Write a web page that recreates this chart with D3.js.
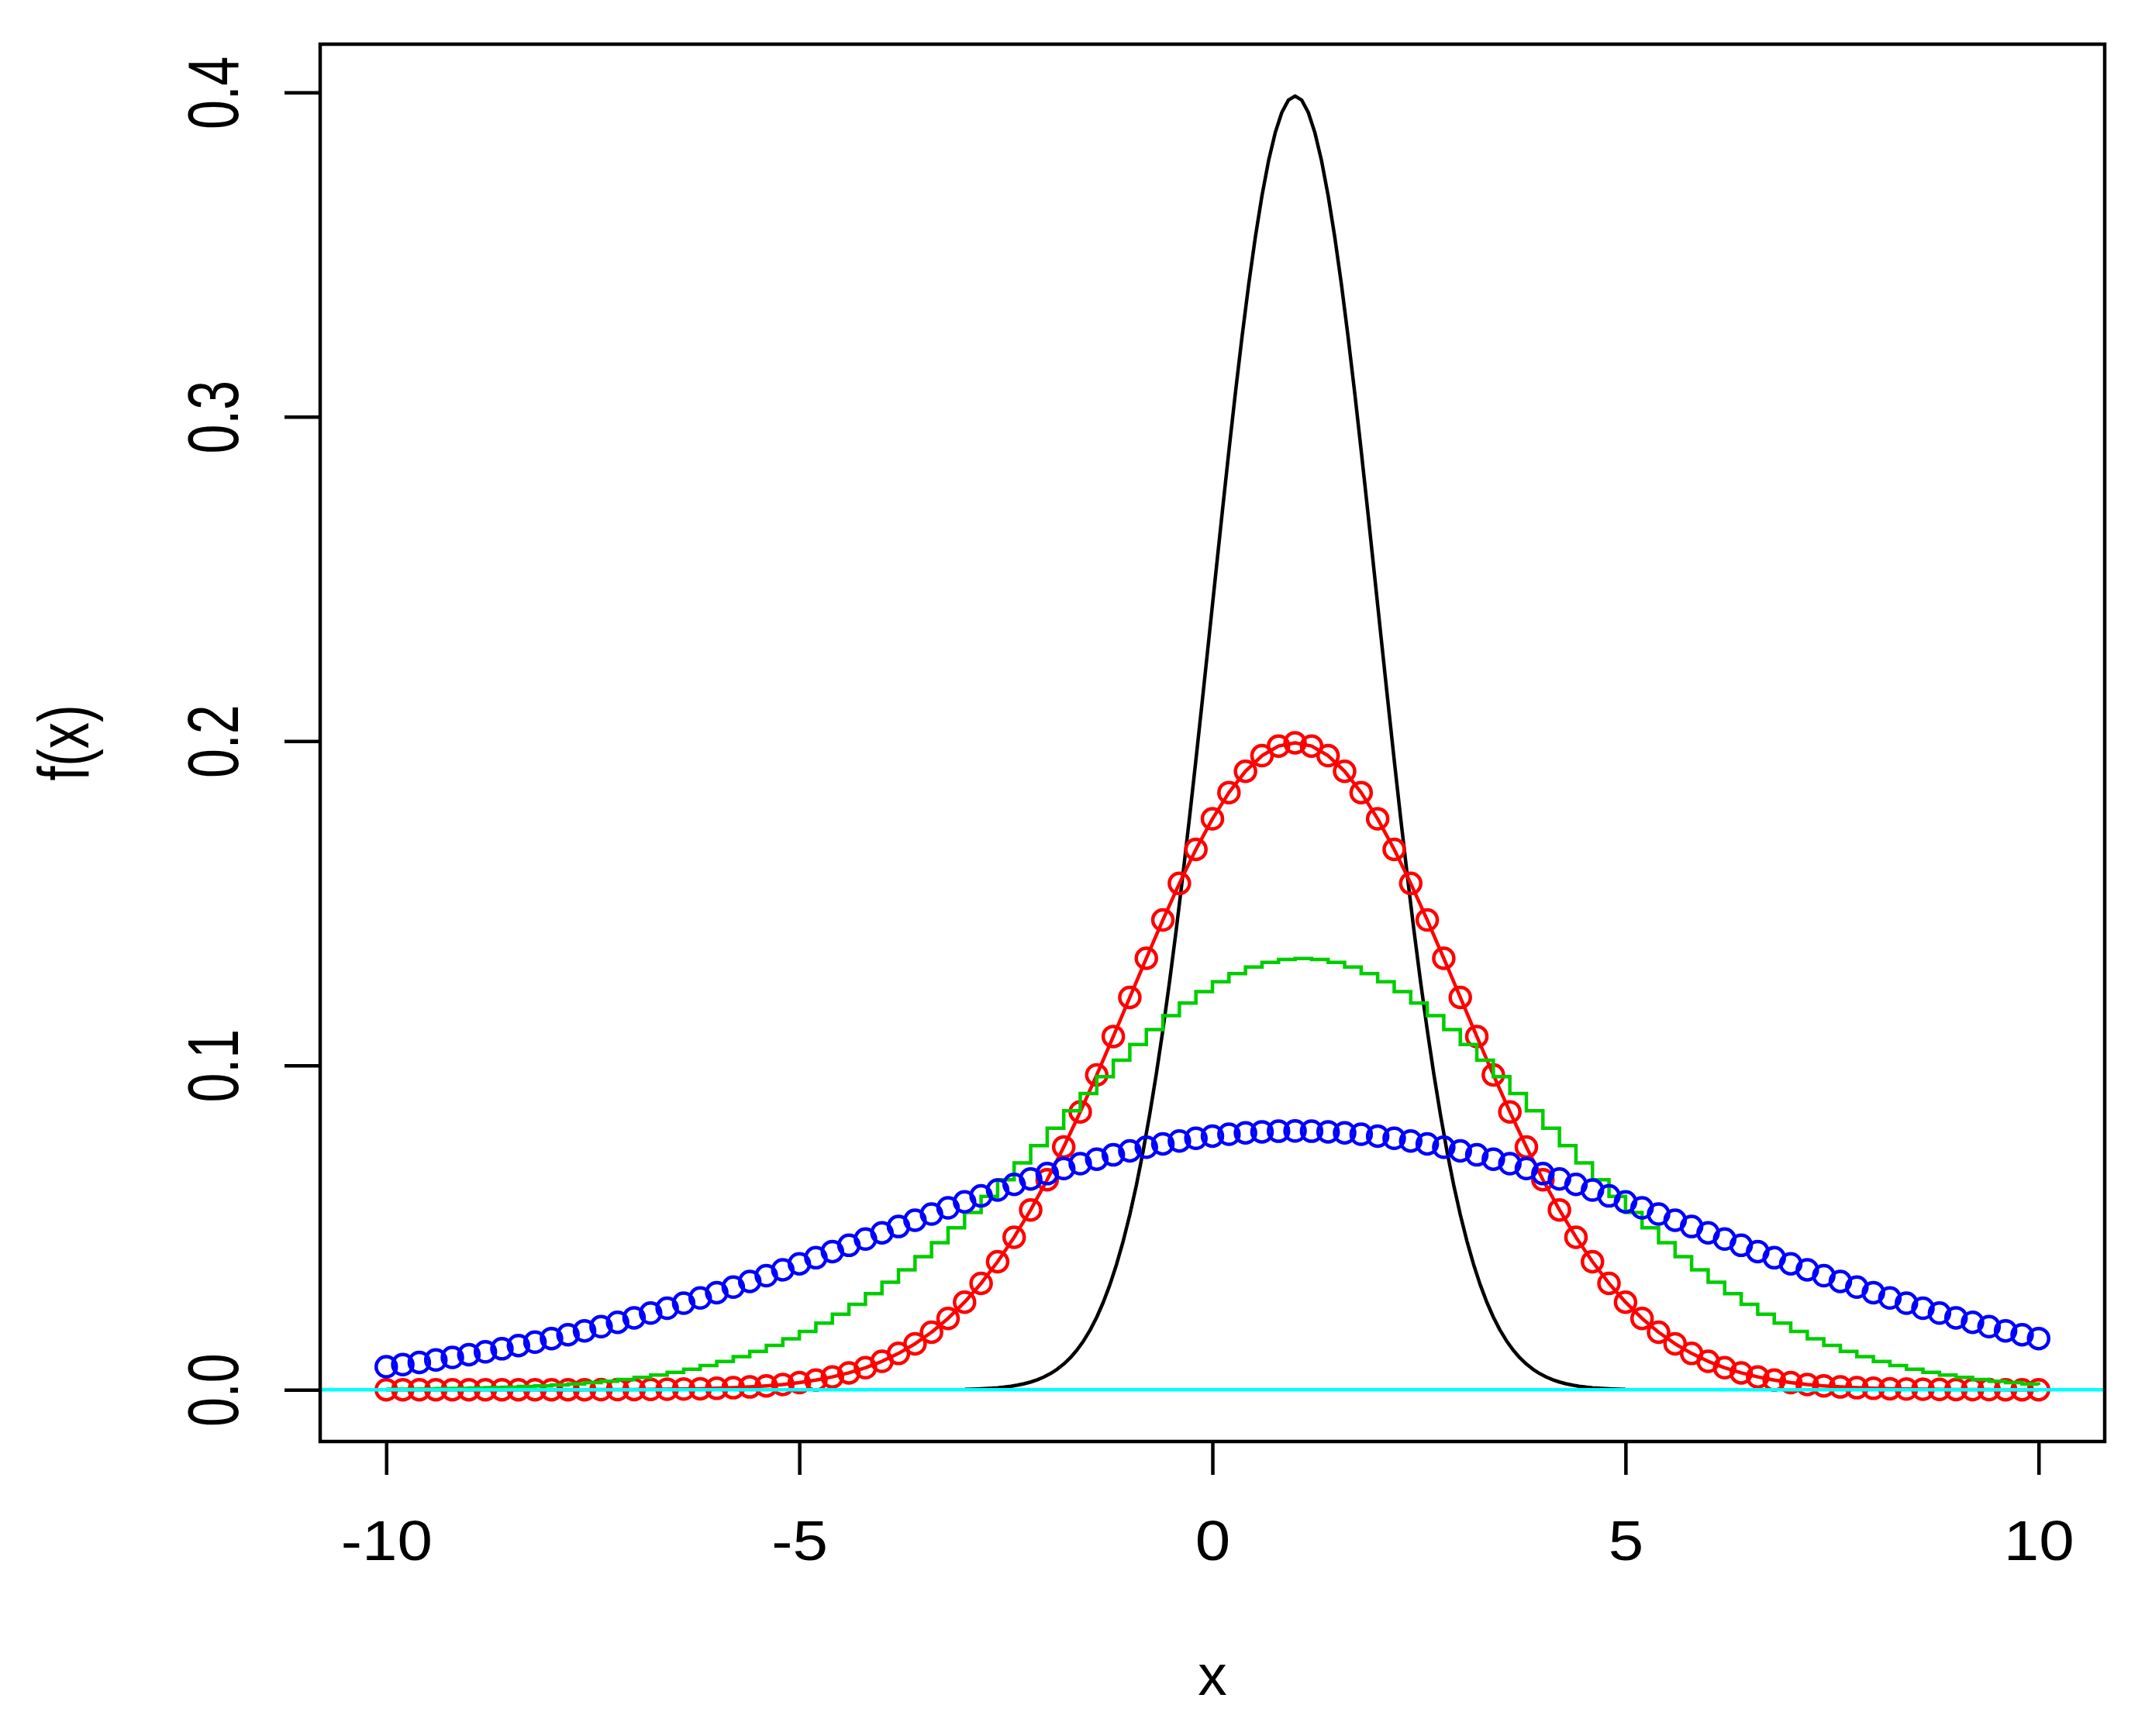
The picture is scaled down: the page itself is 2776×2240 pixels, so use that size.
<!DOCTYPE html>
<html>
<head>
<meta charset="utf-8">
<script src="https://cdn.jsdelivr.net/npm/d3@7"></script>
<style>
  body { margin: 0; background: #fff; }
  svg { display: block; }
  text { font-family: 'Liberation Sans', Arial, sans-serif; fill: #000; }
</style>
</head>
<body>
<svg id="chart" width="2776" height="2240"></svg>
<script>
const xTicks = [-10, -5, 0, 5, 10]
const yTicks = [0, 0.1, 0.2, 0.3, 0.4]

// sampling grids: black curve runs -3..5, the others -10..10
const blackFrom = -3, blackStep = 0.08
const gridFrom = -10, gridStep = 0.2

// f(x)
const blackY = [
  0.00013, 0.00018, 0.00025, 0.00034, 0.00046, 0.00061, 0.00081, 0.00107, 0.00141, 0.00184,
  0.00238, 0.00307, 0.00393, 0.00499, 0.00631, 0.00792, 0.00987, 0.01223, 0.01506, 0.01842,
  0.02239, 0.02705, 0.03246, 0.03871, 0.04586, 0.05399, 0.06316, 0.07341, 0.08478, 0.09728,
  0.11092, 0.12566, 0.14146, 0.15823, 0.17585, 0.19419, 0.21307, 0.23230, 0.25164, 0.27086,
  0.28969, 0.30785, 0.32506, 0.34105, 0.35553, 0.36827, 0.37903, 0.38762, 0.39387, 0.39767,
  0.39894,
  0.39767, 0.39387, 0.38762, 0.37903, 0.36827, 0.35553, 0.34105, 0.32506, 0.30785, 0.28969,
  0.27086, 0.25164, 0.23230, 0.21307, 0.19419, 0.17585, 0.15823, 0.14146, 0.12566, 0.11092,
  0.09728, 0.08478, 0.07341, 0.06316, 0.05399, 0.04586, 0.03871, 0.03246, 0.02705, 0.02239,
  0.01842, 0.01506, 0.01223, 0.00987, 0.00792, 0.00631, 0.00499, 0.00393, 0.00307, 0.00238,
  0.00184, 0.00141, 0.00107, 0.00081, 0.00061, 0.00046, 0.00034, 0.00025, 0.00018, 0.00013
]

// red line with circles
const redY = [
  0, 0, 0, 0, 0, 0, 0, 0, 0, 0,
  0.00001, 0.00001, 0.00002, 0.00003, 0.00004, 0.00007, 0.00010, 0.00015, 0.00021, 0.00031,
  0.00044, 0.00062, 0.00086, 0.00119, 0.00163, 0.00222, 0.00298, 0.00396, 0.00521, 0.00679,
  0.00876, 0.01120, 0.01416, 0.01774, 0.02199, 0.02700, 0.03281, 0.03948, 0.04702, 0.05546,
  0.06476, 0.07486, 0.08568, 0.09709, 0.10893, 0.12099, 0.13304, 0.14485, 0.15613, 0.16661,
  0.17603, 0.18414, 0.19069, 0.19552, 0.19848, 0.19947, 0.19848, 0.19552, 0.19069, 0.18414,
  0.17603, 0.16661, 0.15613, 0.14485, 0.13304, 0.12099, 0.10893, 0.09709, 0.08568, 0.07486,
  0.06476, 0.05546, 0.04702, 0.03948, 0.03281, 0.02700, 0.02199, 0.01774, 0.01416, 0.01120,
  0.00876, 0.00679, 0.00521, 0.00396, 0.00298, 0.00222, 0.00163, 0.00119, 0.00086, 0.00062,
  0.00044, 0.00031, 0.00021, 0.00015, 0.00010, 0.00007, 0.00004, 0.00003, 0.00002, 0.00001,
  0.00001
]

// green step line
const greenY = [
  0.00016, 0.00020, 0.00026, 0.00033, 0.00041, 0.00051, 0.00064, 0.00079, 0.00098, 0.00121,
  0.00148, 0.00180, 0.00218, 0.00264, 0.00317, 0.00380, 0.00453, 0.00537, 0.00635, 0.00746,
  0.00874, 0.01019, 0.01182, 0.01366, 0.01572, 0.01800, 0.02052, 0.02329, 0.02632, 0.02961,
  0.03316, 0.03697, 0.04104, 0.04536, 0.04991, 0.05467, 0.05962, 0.06473, 0.06996, 0.07529,
  0.08066, 0.08603, 0.09135, 0.09656, 0.10163, 0.10648, 0.11108, 0.11535, 0.11926, 0.12276,
  0.12579, 0.12834, 0.13035, 0.13180, 0.13269, 0.13298, 0.13269, 0.13180, 0.13035, 0.12834,
  0.12579, 0.12276, 0.11926, 0.11535, 0.11108, 0.10648, 0.10163, 0.09656, 0.09135, 0.08603,
  0.08066, 0.07529, 0.06996, 0.06473, 0.05962, 0.05467, 0.04991, 0.04536, 0.04104, 0.03697,
  0.03316, 0.02961, 0.02632, 0.02329, 0.02052, 0.01800, 0.01572, 0.01366, 0.01182, 0.01019,
  0.00874, 0.00746, 0.00635, 0.00537, 0.00453, 0.00380, 0.00317, 0.00264, 0.00218, 0.00180,
  0.00148
]

// blue circles only
const blueY = [
  0.00709, 0.00774, 0.00843, 0.00917, 0.00996, 0.01080, 0.01169, 0.01263, 0.01363, 0.01468,
  0.01579, 0.01696, 0.01818, 0.01946, 0.02079, 0.02218, 0.02363, 0.02513, 0.02669, 0.02829,
  0.02995, 0.03164, 0.03339, 0.03517, 0.03699, 0.03884, 0.04071, 0.04261, 0.04453, 0.04646,
  0.04839, 0.05033, 0.05226, 0.05417, 0.05607, 0.05794, 0.05977, 0.06157, 0.06332, 0.06501,
  0.06664, 0.06821, 0.06970, 0.07111, 0.07243, 0.07365, 0.07478, 0.07581, 0.07672, 0.07752,
  0.07821, 0.07877, 0.07922, 0.07953, 0.07972, 0.07979, 0.07972, 0.07953, 0.07922, 0.07877,
  0.07821, 0.07752, 0.07672, 0.07581, 0.07478, 0.07365, 0.07243, 0.07111, 0.06970, 0.06821,
  0.06664, 0.06501, 0.06332, 0.06157, 0.05977, 0.05794, 0.05607, 0.05417, 0.05226, 0.05033,
  0.04839, 0.04646, 0.04453, 0.04261, 0.04071, 0.03884, 0.03699, 0.03517, 0.03339, 0.03164,
  0.02995, 0.02829, 0.02669, 0.02513, 0.02363, 0.02218, 0.02079, 0.01946, 0.01818, 0.01696,
  0.01579
]

const box = {left: 413, right: 2715, top: 57, bottom: 1860}
const lw = 4.5

const svg = d3.select('#chart')

const x = d3.scaleLinear().domain([-10.8, 10.8]).range([box.left, box.right])
const y = d3.scaleLinear().domain([-0.01596, 0.4149]).range([box.bottom, box.top])

const gridX = i => gridFrom + i * gridStep
const blackX = i => blackFrom + i * blackStep

// black curve
svg.append('path')
  .attr('d', d3.line().x((d, i) => x(blackX(i))).y(d => y(d))(blackY))
  .attr('fill', 'none')
  .attr('stroke', '#000')
  .attr('stroke-width', lw)
  .attr('stroke-linejoin', 'round')

// red: line over the points (type "o")
svg.append('path')
  .attr('d', d3.line().x((d, i) => x(gridX(i))).y(d => y(d))(redY))
  .attr('fill', 'none')
  .attr('stroke', '#ff0000')
  .attr('stroke-width', lw)
  .attr('stroke-linejoin', 'round')

svg.append('g').selectAll('circle')
  .data(redY)
  .join('circle')
  .attr('cx', (d, i) => x(gridX(i)))
  .attr('cy', d => y(d))
  .attr('r', 13)
  .attr('fill', 'none')
  .attr('stroke', '#ff0000')
  .attr('stroke-width', lw)

// green steps
svg.append('path')
  .attr('d', d3.line().curve(d3.curveStepAfter).x((d, i) => x(gridX(i))).y(d => y(d))(greenY))
  .attr('fill', 'none')
  .attr('stroke', '#00cd00')
  .attr('stroke-width', lw)

// blue points
svg.append('g').selectAll('circle')
  .data(blueY)
  .join('circle')
  .attr('cx', (d, i) => x(gridX(i)))
  .attr('cy', d => y(d))
  .attr('r', 13)
  .attr('fill', 'none')
  .attr('stroke', '#0000ff')
  .attr('stroke-width', lw)

// horizontal line at 0
svg.append('line')
  .attr('x1', box.left).attr('x2', box.right)
  .attr('y1', y(0)).attr('y2', y(0))
  .attr('stroke', '#00ffff')
  .attr('stroke-width', lw)

// axes
const gx = svg.append('g')
  .attr('transform', `translate(0,${box.bottom})`)
  .call(d3.axisBottom(x).tickValues(xTicks).tickSize(43).tickFormat(d => String(d)))
gx.select('.domain').remove()
gx.selectAll('line').attr('stroke', '#000').attr('stroke-width', lw)
gx.selectAll('text')
  .attr('y', 0).attr('dy', null)
  .attr('font-size', 73)
  .attr('transform', 'translate(0,153) scale(1.12,1)')

const gy = svg.append('g')
  .attr('transform', `translate(${box.left},0)`)
  .call(d3.axisLeft(y).tickValues(yTicks).tickSize(46).tickFormat(d3.format('.1f')))
gy.select('.domain').remove()
gy.selectAll('line').attr('stroke', '#000').attr('stroke-width', lw)
gy.selectAll('text')
  .attr('x', 0).attr('dy', null)
  .attr('text-anchor', 'middle')
  .attr('font-size', 68)
  .attr('transform', 'translate(-106,0) rotate(-90) scale(1,1.35)')

// plot box
svg.append('rect')
  .attr('x', box.left).attr('y', box.top)
  .attr('width', box.right - box.left).attr('height', box.bottom - box.top)
  .attr('fill', 'none')
  .attr('stroke', '#000')
  .attr('stroke-width', lw)

// axis titles
svg.append('text')
  .attr('x', (box.left + box.right) / 2).attr('y', 2187)
  .attr('text-anchor', 'middle')
  .attr('font-size', 75)
  .text('x')

svg.append('text')
  .attr('transform', `translate(114,${(box.top + box.bottom) / 2}) rotate(-90) scale(1,1.35)`)
  .attr('text-anchor', 'middle')
  .attr('font-size', 68)
  .text('f(x)')
</script>
</body>
</html>
